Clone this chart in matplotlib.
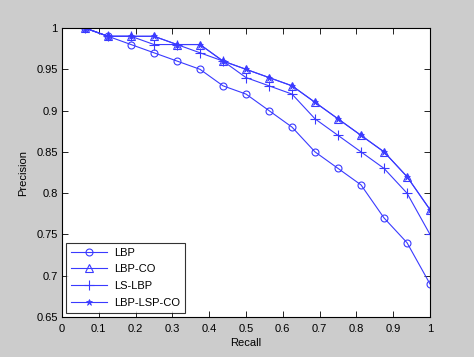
import matplotlib
matplotlib.use("Agg")
import matplotlib.pyplot as plt

recall = [0.0625, 0.125, 0.1875, 0.25, 0.3125, 0.375, 0.4375, 0.5,
          0.5625, 0.625, 0.6875, 0.75, 0.8125, 0.875, 0.9375, 1.0]
lbp = [1.0, 0.99, 0.98, 0.97, 0.96, 0.95, 0.93, 0.92,
       0.90, 0.88, 0.85, 0.83, 0.81, 0.77, 0.74, 0.69]
lbp_co = [1.0, 0.99, 0.99, 0.99, 0.98, 0.98, 0.96, 0.95,
          0.94, 0.93, 0.91, 0.89, 0.87, 0.85, 0.82, 0.78]
ls_lbp = [1.0, 0.99, 0.99, 0.98, 0.98, 0.97, 0.96, 0.94,
          0.93, 0.92, 0.89, 0.87, 0.85, 0.83, 0.80, 0.75]
lbp_lsp_co = [1.0, 0.99, 0.99, 0.99, 0.98, 0.98, 0.96, 0.95,
              0.94, 0.93, 0.91, 0.89, 0.87, 0.85, 0.82, 0.78]

xticks = [0, 0.1, 0.2, 0.3, 0.4, 0.5, 0.6, 0.7, 0.8, 0.9, 1]
xticklabels = ["0", "0.1", "0.2", "0.3", "0.4", "0.5", "0.6", "0.7", "0.8", "0.9", "1"]
yticks = [0.65, 0.7, 0.75, 0.8, 0.85, 0.9, 0.95, 1.0]
yticklabels = ["0.65", "0.7", "0.75", "0.8", "0.85", "0.9", "0.95", "1"]

plt.rcParams['font.family'] = ['Liberation Sans', 'DejaVu Sans']

fig = plt.figure(figsize=(4.74, 3.57), dpi=100, facecolor="#cccccc")
ax = fig.add_axes([0.1308, 0.112, 0.7764, 0.8095])
ax.set_facecolor("white")

col = "#3a3aff"
lw = 0.8
ax.plot(recall, lbp, color=col, lw=lw, marker="o", ms=5, mfc="none", mec=col, mew=0.8, label="LBP")
ax.plot(recall, lbp_co, color=col, lw=lw, marker="^", ms=5.5, mfc="none", mec=col, mew=0.8, label="LBP-CO")
ax.plot(recall, ls_lbp, color=col, lw=lw, marker="+", ms=7, mec=col, mew=0.8, label="LS-LBP")
ax.plot(recall, lbp_lsp_co, color=col, lw=lw, marker="*", ms=4.5, mfc=col, mec=col, mew=0.5, label="LBP-LSP-CO")

ax.set_xlim(0, 1)
ax.set_ylim(0.65, 1.0)
ax.set_xticks(xticks)
ax.set_xticklabels(xticklabels)
ax.set_yticks(yticks)
ax.set_yticklabels(yticklabels)
ax.tick_params(direction="in", top=True, right=True, length=4, width=0.6, labelsize=8, colors="black")
ax.tick_params(axis="x", pad=5)
ax.tick_params(axis="y", pad=3)
for s in ax.spines.values():
    s.set_linewidth(0.8)
    s.set_color("black")

ax.set_xlabel("Recall", fontsize=8, labelpad=3)
ax.set_ylabel("Precision", fontsize=8, labelpad=6)

leg = ax.legend(loc="lower left", fontsize=8, frameon=True, fancybox=False,
                edgecolor="black", handlelength=3.2, borderpad=0.45,
                labelspacing=0.6, handletextpad=0.6, borderaxespad=0.4)
leg.get_frame().set_linewidth(0.8)

fig.savefig("out.png", dpi=100, facecolor=fig.get_facecolor())
